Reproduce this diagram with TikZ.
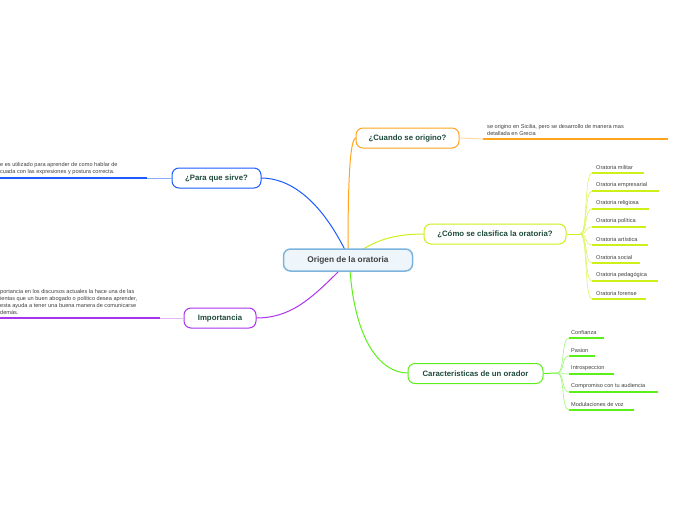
\documentclass[tikz,border=0pt]{standalone}
\usepackage{fontspec}
\setmainfont{Liberation Sans}
\begin{document}
\begin{tikzpicture}[x=1pt,y=-1pt,
  topic/.style={draw=#1,line width=1pt,rounded corners=7pt,fill=white,minimum height=20pt,font=\bfseries\fontsize{7.8}{9}\selectfont,text=tdark},
  leaf/.style={anchor=south west,font=\fontsize{5.6}{7}\selectfont,text=black!75,inner sep=1pt,align=left},
  ln/.style={line width=1.2pt,draw=#1}]
\definecolor{tdark}{HTML}{1E4A3A}
\useasboundingbox (0,0) rectangle (697,520);
\clip (0,0) rectangle (697,520);
\definecolor{cblue}{HTML}{1A5CFF}\definecolor{corange}{HTML}{FFA41C}
\definecolor{cyel}{HTML}{CCF01A}\definecolor{cgreen}{HTML}{5CF01A}
\definecolor{cpurp}{HTML}{AA33EE}\definecolor{ccen}{HTML}{7DB4DE}
% connectors from center
\coordinate (c0) at (348,250);
\draw[corange,line width=1pt] (c0) .. controls (348,180) and (350,138) .. (356,138);
\draw[cyel,line width=1pt] (362,250) .. controls (380,238) and (400,234) .. (424,234);
\draw[cgreen,line width=1pt] (350,270) .. controls (355,340) and (380,373) .. (408,373);
\draw[cblue,line width=1pt] (345,250) .. controls (320,200) and (290,178) .. (261,178);
\draw[cpurp,line width=1pt] (340,270) .. controls (310,300) and (290,318) .. (256,318);
\node[draw=ccen,line width=1.5pt,rounded corners=7pt,fill=ccen!12,minimum width=129pt,minimum height=22pt,font=\bfseries\fontsize{8.3}{9}\selectfont,text=black!75] (cen) at (348,260) {Origen de la oratoria};
% Cuando
\node[topic=corange,minimum width=103pt] (q1) at (407.5,138) {¿Cuando se origino?};
\draw[corange!40,line width=1pt] (q1.east) -- (483,139);
\draw[ln=corange] (483,139) -- (668,139);
\node[leaf] (t1) at (486,137) {se origino en Sicilia, pero se desarrollo de manera mas\\detallada en Grecia};
% Como
\node[topic=cyel,minimum width=142pt] (q2) at (495,234) {¿Cómo se clasifica la oratoria?};
\draw[cyel,line width=1pt] (q2.east) -- (580,234);
\foreach \y/\t/\w in {173/Oratoria militar/644,191/Oratoria empresarial/659,209/Oratoria religiosa/649,227/Oratoria política/646,245/Oratoria artística/648,263/Oratoria social/640,281/Oratoria pedagógica/658,299/Oratoria forense/646}{
  \draw[cyel!70,line width=0.6pt] (580,234) .. controls (588,234) and (584,\y) .. (592,\y);
  \draw[ln=cyel] (592,\y) -- (\w,\y);
  \node[leaf] at (595,\y-2) {\t};}
% Caracteristicas
\node[topic=cgreen,minimum width=135pt] (q3) at (475.5,373.5) {Caracteristicas de un orador};
\draw[cgreen,line width=1pt] (q3.east) -- (557,373);
\foreach \y/\t/\w in {338/Confianza/604,356/Pasion/595,374/Introspeccion/614,392/Compromiso con tu audiencia/658,410/Modulaciones de voz/634}{
  \draw[cgreen!60,line width=0.6pt] (557,373) .. controls (565,373) and (561,\y) .. (569,\y);
  \draw[ln=cgreen] (569,\y) -- (\w,\y);
  \node[leaf] at (570,\y-2) {\t};}
% Para que sirve
\node[topic=cblue,minimum width=89pt] (q4) at (216.5,178) {¿Para que sirve?};
\draw[cblue!50,line width=1pt] (q4.west) -- (147,178);
\draw[ln=cblue] (147,178) -- (-2,178);
\node[leaf] (t4) at (-1,176) {e es utilizado para aprender de como hablar de\\cuada con las expresiones y postura correcta.};
% Importancia
\node[topic=cpurp,minimum width=72pt] (q5) at (220,318) {Importancia};
\draw[cpurp!35,line width=1pt] (q5.west) -- (160,318);
\draw[ln=cpurp] (160,318) -- (-2,318);
\node[leaf] (t5) at (-1,316) {portancia en los discursos actuales la hace una de las\\ientas que un buen abogado o político desea aprender,\\ esta ayuda a tener una buena manera de comunicarse\\ demás.};
\end{tikzpicture}
\end{document}
